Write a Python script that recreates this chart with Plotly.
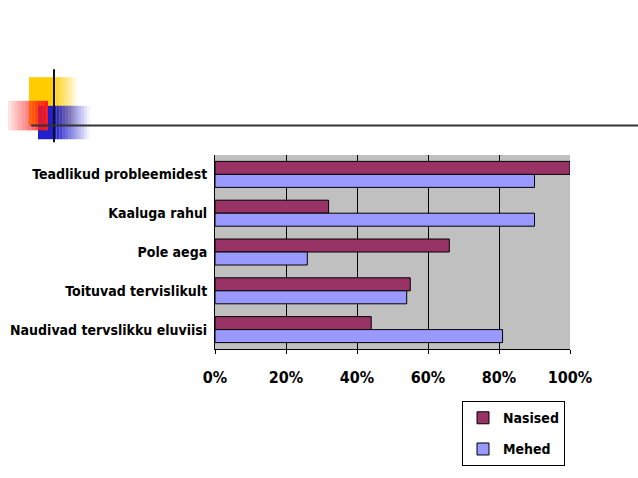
import plotly.graph_objects as go

categories = ["Teadlikud probleemidest", "Kaaluga rahul", "Pole aega",
              "Toituvad tervislikult", "Naudivad tervslikku eluviisi"]
nasised = [100, 32, 66, 55, 44]
mehed = [90, 90, 26, 54, 81]
tick_vals = [0, 20, 40, 60, 80, 100]
tick_text = ["0%", "20%", "40%", "60%", "80%", "100%"]

FONT = "Liberation Sans Narrow, Arial Narrow, DejaVu Sans Condensed, sans-serif"

W, H = 638, 478
L, R, T, B = 215, 68, 155, 126
PW, PH = W - L - R, H - T - B

def px(x):
    return (x - L) / PW

def py(y):
    return (H - B - y) / PH

fig = go.Figure()
fig.add_trace(go.Bar(y=categories, x=nasised, orientation="h", name="Nasised",
                     legendgroup="a",
                     marker=dict(color="#993366", line=dict(color="#000000", width=1))))
fig.add_trace(go.Bar(y=categories, x=mehed, orientation="h", name="Mehed",
                     legendgroup="b",
                     marker=dict(color="#9999FF", line=dict(color="#000000", width=1))))

shapes = []

def grad_rect(x0, y0, x1, y1, color, solid=0.3, steps=12, reverse=False, lo=0.05):
    # solid part then fading steps
    if not reverse:
        xs = x0 + (x1 - x0) * solid
        shapes.append(dict(type="rect", xref="paper", yref="paper",
                           x0=px(x0), x1=px(xs), y0=py(y1), y1=py(y0),
                           fillcolor=color, line=dict(width=0), layer="above"))
        w = (x1 - xs) / steps
        for i in range(steps):
            f = i / (steps - 1)
            op = 1 - f * (1 - lo)
            shapes.append(dict(type="rect", xref="paper", yref="paper",
                               x0=px(xs + i * w), x1=px(xs + (i + 1) * w),
                               y0=py(y1), y1=py(y0),
                               fillcolor=color, opacity=op, line=dict(width=0), layer="above"))
    else:
        w = (x1 - x0) / steps
        for i in range(steps):
            f = i / (steps - 1)
            op = lo + f * (1 - lo)
            shapes.append(dict(type="rect", xref="paper", yref="paper",
                               x0=px(x0 + i * w), x1=px(x0 + (i + 1) * w),
                               y0=py(y1), y1=py(y0),
                               fillcolor=color, opacity=op, line=dict(width=0), layer="above"))

grad_rect(29, 76, 78, 125, "#FFCC00", solid=0.5)
grad_rect(38, 105, 90, 139, "#2020CC", solid=0.3)
grad_rect(8, 100, 48, 130, "#FF1A1A", reverse=True, lo=0.12)
shapes.append(dict(type="line", xref="paper", yref="paper", x0=px(54), x1=px(54),
                   y0=py(142), y1=py(68), line=dict(color="#111111", width=2), layer="above"))
shapes.append(dict(type="line", xref="paper", yref="paper", x0=px(31), x1=px(W),
                   y0=py(125), y1=py(125), line=dict(color="#333333", width=2), layer="above"))

fig.update_layout(
    width=W, height=H,
    margin=dict(l=L, r=R, t=T, b=B),
    paper_bgcolor="white",
    plot_bgcolor="#C0C0C0",
    barmode="group",
    bargap=0.33,
    bargroupgap=0,
    font=dict(family=FONT, size=15, color="#000000", weight="bold"),
    xaxis=dict(range=[0, 100], tickvals=tick_vals, ticktext=tick_text,
               showgrid=True, gridcolor="#000000", gridwidth=1,
               showline=True, linecolor="#000000", linewidth=1, mirror=False,
               ticks="outside", ticklen=4, tickcolor="#000000", automargin=False,
               tickfont=dict(family=FONT, size=16, weight="bold"), zeroline=False,
               ticklabelstandoff=10),
    yaxis=dict(categoryorder="array", categoryarray=categories, autorange="reversed",
               showline=True, linecolor="#000000", linewidth=1,
               ticks="", showgrid=False, automargin=False,
               tickfont=dict(family=FONT, size=14, weight="bold"), ticklabelstandoff=4),
    legend=dict(x=px(462), y=py(405), xanchor="left", yanchor="top",
                bgcolor="white", bordercolor="#000000", borderwidth=1,
                font=dict(family=FONT, size=14, weight="bold"),
                itemwidth=30, tracegroupgap=10),
    shapes=shapes,
    showlegend=True,
)

fig.write_html("out.html")
